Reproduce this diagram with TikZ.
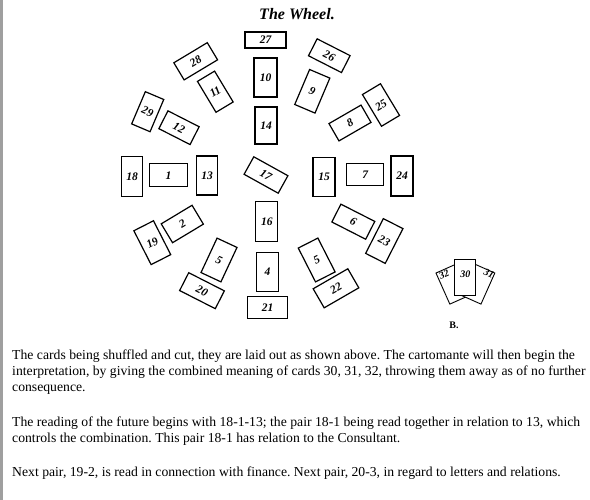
\documentclass[tikz,border=0pt]{standalone}
\usepackage{fontspec}
\setmainfont{Liberation Serif}
\frenchspacing
\begin{document}
\begin{tikzpicture}[x=1pt,y=-1pt,
  card/.style={draw=black, line width=1.2pt, fill=white, inner sep=0pt,
    font=\fontsize{11.5}{11.5}\selectfont\bfseries\itshape},
  cardnum/.style={inner sep=0pt, font=\fontsize{10}{10}\selectfont\bfseries\itshape},
  body/.style={anchor=base west, inner sep=0pt, font=\fontsize{13.7}{16}\selectfont}]
\useasboundingbox (0,0) rectangle (590,500);
\fill[gray!75] (0,0) rectangle (2.5,500);
\node[font=\fontsize{16}{16}\selectfont\bfseries\itshape] (title) at (297,14) {The Wheel.};
% top column
\node[card, minimum width=41pt, minimum height=16pt] (c27) at (265.5,40) {27};
\node[card, minimum width=23pt, minimum height=39pt] (c10) at (265.5,77.5) {10};
\node[card, minimum width=22pt, minimum height=37pt] (c14) at (266,125.5) {14};
% upper left
\node[card, minimum width=39pt, minimum height=20pt, rotate=31] (c28) at (195.7,61.3) {28};
\node[card, minimum width=20pt, minimum height=36pt, rotate=31] (c11) at (215.3,91.7) {11};
\node[card, minimum width=20pt, minimum height=35pt, rotate=-23] (c29) at (147.7,111.7) {29};
\node[card, minimum width=35pt, minimum height=20pt, rotate=-27] (c12) at (179,127.7) {12};
% upper right
\node[card, minimum width=37pt, minimum height=19pt, rotate=-27] (c26) at (329.3,55.7) {26};
\node[card, minimum width=22pt, minimum height=38pt, rotate=-23] (c9) at (312.3,91.3) {9};
\node[card, minimum width=21pt, minimum height=37pt, rotate=31] (c25) at (381,105) {25};
\node[card, minimum width=37pt, minimum height=20pt, rotate=30] (c8) at (350,123) {8};
% middle row
\node[card, minimum width=21pt, minimum height=40pt] (c18) at (132,176.7) {18};
\node[card, minimum width=38pt, minimum height=23pt] (c1) at (168.5,175.3) {1};
\node[card, minimum width=21pt, minimum height=39pt] (c13) at (207,175.5) {13};
\node[card, minimum width=39pt, minimum height=20pt, rotate=-29] (c17) at (266,175) {17};
\node[card, minimum width=22pt, minimum height=39pt] (c15) at (324,176.7) {15};
\node[card, minimum width=37pt, minimum height=22pt] (c7) at (365.3,174.5) {7};
\node[card, minimum width=22pt, minimum height=40pt] (c24) at (402,176) {24};
% lower left
\node[card, minimum width=36pt, minimum height=22pt, rotate=31] (c2) at (182.3,224) {2};
\node[card, minimum width=22pt, minimum height=38pt, rotate=27] (c19) at (152.3,242.7) {19};
\node[card, minimum width=22pt, minimum height=38pt, rotate=-25] (c5a) at (219,260) {5};
\node[card, minimum width=40pt, minimum height=20pt, rotate=-27] (c20) at (202,290.7) {20};
% bottom column
\node[card, minimum width=22pt, minimum height=40pt] (c16) at (266.8,221.7) {16};
\node[card, minimum width=22pt, minimum height=39pt] (c4) at (267.5,272) {4};
\node[card, minimum width=40pt, minimum height=22pt] (c21) at (267.5,307.5) {21};
% lower right
\node[card, minimum width=38pt, minimum height=20pt, rotate=-27] (c6) at (353.3,221.7) {6};
\node[card, minimum width=22pt, minimum height=39pt, rotate=-27] (c23) at (384.3,241) {23};
\node[card, minimum width=22pt, minimum height=38pt, rotate=27] (c5b) at (316.7,260) {5};
\node[card, minimum width=40pt, minimum height=22pt, rotate=30] (c22) at (336,288.3) {22};
% discarded group
\node[card, line width=0.9pt, minimum width=21pt, minimum height=34pt, rotate=24] (c32) at (452.5,284.3) {};
\node[card, line width=0.9pt, minimum width=21pt, minimum height=34pt, rotate=-24] (c31) at (478.3,284.3) {};
\node[card, line width=0.9pt, minimum width=21pt, minimum height=36pt] (c30) at (465.3,277) {};
\node[cardnum] (n30) at (465.3,274) {30};
\node[cardnum, rotate=24] (n32) at (444,274.5) {32};
\node[cardnum, rotate=-24] (n31) at (489,273.5) {31};
\node[font=\fontsize{10}{10}\selectfont\bfseries] (lbB) at (454,325) {B.};
% text
\node[body] (t1) at (12,359.5) {The cards being shuffled and cut, they are laid out as shown above. The cartomante will then begin the};
\node[body] (t2) at (12,375.5) {interpretation, by giving the combined meaning of cards 30, 31, 32, throwing them away as of no further};
\node[body] (t3) at (12,391.5) {consequence.};
\node[body] (t4) at (12,426.5) {The reading of the future begins with 18-1-13; the pair 18-1 being read together in relation to 13, which};
\node[body] (t5) at (12,442.5) {controls the combination. This pair 18-1 has relation to the Consultant.};
\node[body] (t6) at (12,476.5) {Next pair, 19-2, is read in connection with finance. Next pair, 20-3, in regard to letters and relations.};
\end{tikzpicture}
\end{document}
